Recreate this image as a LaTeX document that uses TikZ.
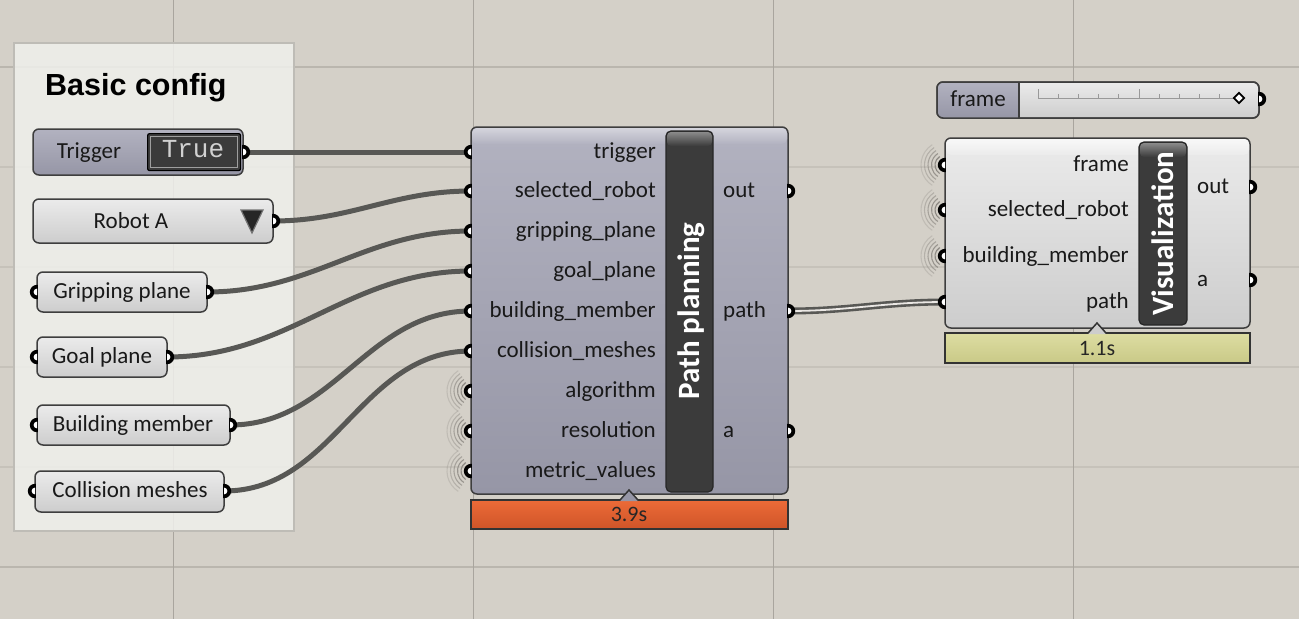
\documentclass[tikz,border=0pt]{standalone}
\usepackage{fontspec}
\setmainfont{Carlito}
\newfontfamily\titlefont{Liberation Sans}
\newfontfamily\codefont{Liberation Mono}
\usetikzlibrary{shapes.geometric}

\definecolor{canvas}{HTML}{D4D0C8}
\definecolor{gridv}{HTML}{A9A59E}
\definecolor{gridh}{HTML}{C6C2BA}
\definecolor{gridmaj}{HTML}{BAB6AE}
\definecolor{grpfill}{HTML}{F0F0EC}
\definecolor{grpline}{HTML}{BEBCB6}
\definecolor{wirec}{HTML}{585855}
\definecolor{edge}{HTML}{3E3E3E}
\definecolor{purpTop}{HTML}{B2B2C0}
\definecolor{purpBot}{HTML}{9696A6}
\definecolor{purpHi}{HTML}{D4D4DC}
\definecolor{lightTop}{HTML}{EBEBEB}
\definecolor{lightBot}{HTML}{CDCDCD}
\definecolor{lightHi}{HTML}{F8F8F8}
\definecolor{barDark}{HTML}{3B3B3B}
\definecolor{barHi}{HTML}{8A8A8A}
\definecolor{orangeTop}{HTML}{EC6B38}
\definecolor{orangeBot}{HTML}{CF5428}
\definecolor{khakiTop}{HTML}{DDDDA2}
\definecolor{khakiBot}{HTML}{C9C987}
\definecolor{ripple}{HTML}{8E8A84}

\tikzset{
  box/.style={anchor=north west, inner sep=0pt, outer sep=0pt, draw=edge, line width=1.5pt, rounded corners=6pt},
  purpbox/.style={box, top color=purpTop, bottom color=purpBot},
  lightbox/.style={box, top color=lightTop, bottom color=lightBot},
  namebar/.style={anchor=north west, inner sep=0pt, outer sep=0pt, draw=black!85, line width=1.2pt, rounded corners=5pt, fill=barDark},
  timebar/.style={anchor=north west, inner sep=0pt, outer sep=0pt, draw=black!80, line width=1.5pt},
  lbl/.style={inner sep=0pt, font=\fontsize{23}{23}\selectfont, text=black!90},
  inlbl/.style={lbl, anchor=base east},
  outlbl/.style={lbl, anchor=base west},
  boxlbl/.style={lbl, anchor=base},
  barlbl/.style={rotate=90, anchor=base, inner sep=0pt, text=white, font=\fontsize{31}{31}\selectfont\bfseries},
  timelbl/.style={anchor=base, inner sep=0pt, font=\fontsize{22}{22}\selectfont, text=black!85},
  wire/.style={draw=wirec, line width=5pt},
  dwire/.style={draw=wirec, line width=2.6pt, double=canvas!50!white, double distance=1.8pt},
  ripplearc/.style={draw=ripple, line width=1.1pt},
}

% grip: black half disc with white inner half disc
\newcommand\ghin[1]{%
  \fill[black] (#1) ++(0.8,-7.2) -- ++(-0.8,0) arc[start angle=270,end angle=90,radius=7.2] -- ++(0.8,0) -- cycle;
  \fill[white] (#1) ++(0,-3.4) arc[start angle=270,end angle=90,radius=3.4] -- cycle;}
\newcommand\ghout[1]{%
  \fill[black] (#1) ++(-0.8,-7.2) -- ++(0.8,0) arc[start angle=270,end angle=450,radius=7.2] -- ++(-0.8,0) -- cycle;
  \fill[white] (#1) ++(0,-3.4) arc[start angle=270,end angle=450,radius=3.4] -- cycle;}
\newcommand\ghripple[1]{%
  \foreach \r/\o in {10/1,13.5/0.85,17/0.65,20.5/0.45,24/0.28}
    {\draw[ripplearc, opacity=\o] (#1) ++(122:\r) arc[start angle=122,end angle=238,radius=\r];}}

\begin{document}
\begin{tikzpicture}[x=1pt,y=-1pt]
\useasboundingbox (0,0) rectangle (1299,619);
\fill[canvas] (0,0) rectangle (1299,619);
% grid
\foreach \y in {167,267,367,467} \draw[gridh, line width=1.6pt] (0,\y) -- (1299,\y);
\foreach \y in {67,567} \draw[gridmaj, line width=2.6pt] (0,\y) -- (1299,\y);
\foreach \x in {173,473,773,1073} \draw[gridv, line width=1pt] (\x,0) -- (\x,619);

% group
\node[anchor=north west, minimum width=280, minimum height=488, inner sep=0pt, fill=grpfill, fill opacity=0.85, draw=grpline, line width=2pt] (grp) at (13,42) {};
\node[anchor=base west, inner sep=0pt, font=\titlefont\bfseries\fontsize{30.5}{31}\selectfont] (grptitle) at (45,95) {Basic config};

% grip coordinates
\coordinate (trigOut) at (243,152);
\coordinate (robOut) at (273,221);
\coordinate (gpIn) at (37,292);  \coordinate (gpOut) at (207,292);
\coordinate (glIn) at (37,357);  \coordinate (glOut) at (167,357);
\coordinate (bmIn) at (37,425);  \coordinate (bmOut) at (230,425);
\coordinate (cmIn) at (35,491);  \coordinate (cmOut) at (224,491);
\coordinate (pp1) at (471,152); \coordinate (pp2) at (471,191); \coordinate (pp3) at (471,231);
\coordinate (pp4) at (471,271); \coordinate (pp5) at (471,311); \coordinate (pp6) at (471,351);
\coordinate (pp7) at (471,391); \coordinate (pp8) at (471,431); \coordinate (pp9) at (471,471);
\coordinate (ppo1) at (788,191); \coordinate (ppo2) at (788,311); \coordinate (ppo3) at (788,431);
\coordinate (vi1) at (945,165); \coordinate (vi2) at (945,210); \coordinate (vi3) at (945,256); \coordinate (vi4) at (945,302);
\coordinate (vio1) at (1250,187); \coordinate (vio2) at (1250,280);
\coordinate (frOut) at (1259,99);

% wires
\draw[wire] (trigOut) -- (pp1);
\draw[wire] (robOut) to[out=0,in=180] (pp2);
\draw[wire] (gpOut) to[out=0,in=180] (pp3);
\draw[wire] (glOut) to[out=0,in=180] (pp4);
\draw[wire] (bmOut) to[out=0,in=180] (pp5);
\draw[wire] (cmOut) to[out=0,in=180] (pp6);
\draw[dwire] (ppo2) to[out=0,in=180] (vi4);

% ---- Trigger toggle
\node[purpbox, minimum width=210, minimum height=46] (trig) at (33,129) {};
\node[boxlbl] (trigLbl) at (89,158) {Trigger};
\node[anchor=north west, minimum width=93, minimum height=37, inner sep=0pt, fill=barDark, draw=black, line width=1.2pt, rounded corners=2pt] (trueBox) at (147,133) {};
\draw[gray!75, line width=0.8pt] (150,136) rectangle (237,167);
\node[anchor=base, inner sep=0pt, text=black!18, font=\codefont\fontsize{26}{26}\selectfont] (trueLbl) at (193,157) {True};

% ---- Robot A value list
\node[lightbox, minimum width=240, minimum height=44] (robot) at (33,199) {};
\node[boxlbl] (robotLbl) at (131,228) {Robot A};
\filldraw[fill=black!85, draw=black!55, line width=1.2pt] (241,210) -- (263,210) -- (252,233) -- cycle;

% ---- parameter boxes
\node[lightbox, minimum width=170, minimum height=40] (gp) at (37,272) {};
\node[boxlbl] (gpLbl) at (122,298) {Gripping plane};
\node[lightbox, minimum width=130, minimum height=40] (gl) at (37,337) {};
\node[boxlbl] (glLbl) at (102,363) {Goal plane};
\node[lightbox, minimum width=193, minimum height=40] (bm) at (37,405) {};
\node[boxlbl] (bmLbl) at (133,431) {Building member};
\node[lightbox, minimum width=189, minimum height=41] (cm) at (35,471) {};
\node[boxlbl] (cmLbl) at (130,497) {Collision meshes};

% ---- Path planning component
\foreach \c in {pp7,pp8,pp9} {\ghripple{\c}}
\node[purpbox, minimum width=317, minimum height=367] (pp) at (471,127) {};
\shade[top color=purpHi, bottom color=purpTop, rounded corners=5pt] (472,144) -- (472,128) -- (787,128) -- (787,144) -- cycle;
\node[namebar, minimum width=47, minimum height=361] (ppBar) at (666,131) {};
\shade[top color=barHi, bottom color=barDark, rounded corners=4pt] (667,146) -- (667,132) -- (712,132) -- (712,146) -- cycle;
\node[barlbl] (ppName) at (699,311) {Path planning};
\node[inlbl] (ppL1) at (656,158) {trigger};
\node[inlbl] (ppL2) at (656,197) {selected\_robot};
\node[inlbl] (ppL3) at (656,237) {gripping\_plane};
\node[inlbl] (ppL4) at (656,277) {goal\_plane};
\node[inlbl] (ppL5) at (656,317) {building\_member};
\node[inlbl] (ppL6) at (656,357) {collision\_meshes};
\node[inlbl] (ppL7) at (656,397) {algorithm};
\node[inlbl] (ppL8) at (656,437) {resolution};
\node[inlbl] (ppL9) at (656,477) {metric\_values};
\node[outlbl] (ppO1) at (723,197) {out};
\node[outlbl] (ppO2) at (723,317) {path};
\node[outlbl] (ppO3) at (723,437) {a};
\node[timebar, minimum width=317, minimum height=29, top color=orangeTop, bottom color=orangeBot] (ppTime) at (471,500) {};
\fill[purpBot] (620,501.2) -- (629,490) -- (638,501.2) -- cycle;
\draw[black!80, line width=1.5pt] (620,500) -- (629,490) -- (638,500);
\node[timelbl] (ppTimeLbl) at (629,521) {3.9s};

% ---- frame slider
\node[lightbox, minimum width=322, minimum height=36] (slider) at (937,82) {};
\begin{scope}
  \clip (930,75) rectangle (1019,125);
  \node[purpbox, draw=none, minimum width=322, minimum height=36] (sliderL) at (937,82) {};
\end{scope}
\node[box, fill=none, minimum width=322, minimum height=36] (sliderEdge) at (937,82) {};
\draw[edge, line width=1.5pt] (1019,82) -- (1019,118);
\node[boxlbl] (sliderLbl) at (978,106) {frame};
\draw[black!40, line width=0.8pt] (1038,98) -- (1240,98);
\foreach \k in {1,2,3,4,6,7,8,9} \draw[black!40, line width=0.8pt] (1038+20.2*\k,98) -- ++(0,-4);
\foreach \k in {0,5} \draw[black!40, line width=0.8pt] (1038+20.2*\k,98) -- ++(0,-9);
\node[diamond, draw=black, fill=white, line width=1.8pt, minimum size=11, inner sep=0pt] (knob) at (1239,98) {};

% ---- Visualization component
\foreach \c in {vi1,vi2,vi3} {\ghripple{\c}}
\node[lightbox, minimum width=305, minimum height=190] (vis) at (945,138) {};
\shade[top color=lightHi, bottom color=lightTop, rounded corners=5pt] (946,155) -- (946,139) -- (1249,139) -- (1249,155) -- cycle;
\node[namebar, minimum width=48, minimum height=183] (visBar) at (1139,142) {};
\shade[top color=barHi, bottom color=barDark, rounded corners=4pt] (1140,157) -- (1140,143) -- (1186,143) -- (1186,157) -- cycle;
\node[barlbl] (visName) at (1173,233.5) {Visualization};
\node[inlbl] (viL1) at (1129,171) {frame};
\node[inlbl] (viL2) at (1129,216) {selected\_robot};
\node[inlbl] (viL3) at (1129,262) {building\_member};
\node[inlbl] (viL4) at (1129,308) {path};
\node[outlbl] (viO1) at (1197,193) {out};
\node[outlbl] (viO2) at (1197,286) {a};
\node[timebar, minimum width=305, minimum height=30, top color=khakiTop, bottom color=khakiBot] (visTime) at (945,333) {};
\fill[lightBot] (1088,334.2) -- (1097,323) -- (1106,334.2) -- cycle;
\draw[black!80, line width=1.5pt] (1088,333) -- (1097,323) -- (1106,333);
\node[timelbl] (visTimeLbl) at (1097,355) {1.1s};

% ---- grips
\ghout{trigOut} \ghout{robOut}
\ghin{gpIn} \ghout{gpOut}
\ghin{glIn} \ghout{glOut}
\ghin{bmIn} \ghout{bmOut}
\ghin{cmIn} \ghout{cmOut}
\foreach \c in {pp1,pp2,pp3,pp4,pp5,pp6,pp7,pp8,pp9} {\ghin{\c}}
\foreach \c in {ppo1,ppo2,ppo3} {\ghout{\c}}
\foreach \c in {vi1,vi2,vi3,vi4} {\ghin{\c}}
\foreach \c in {vio1,vio2,frOut} {\ghout{\c}}
\end{tikzpicture}
\end{document}
